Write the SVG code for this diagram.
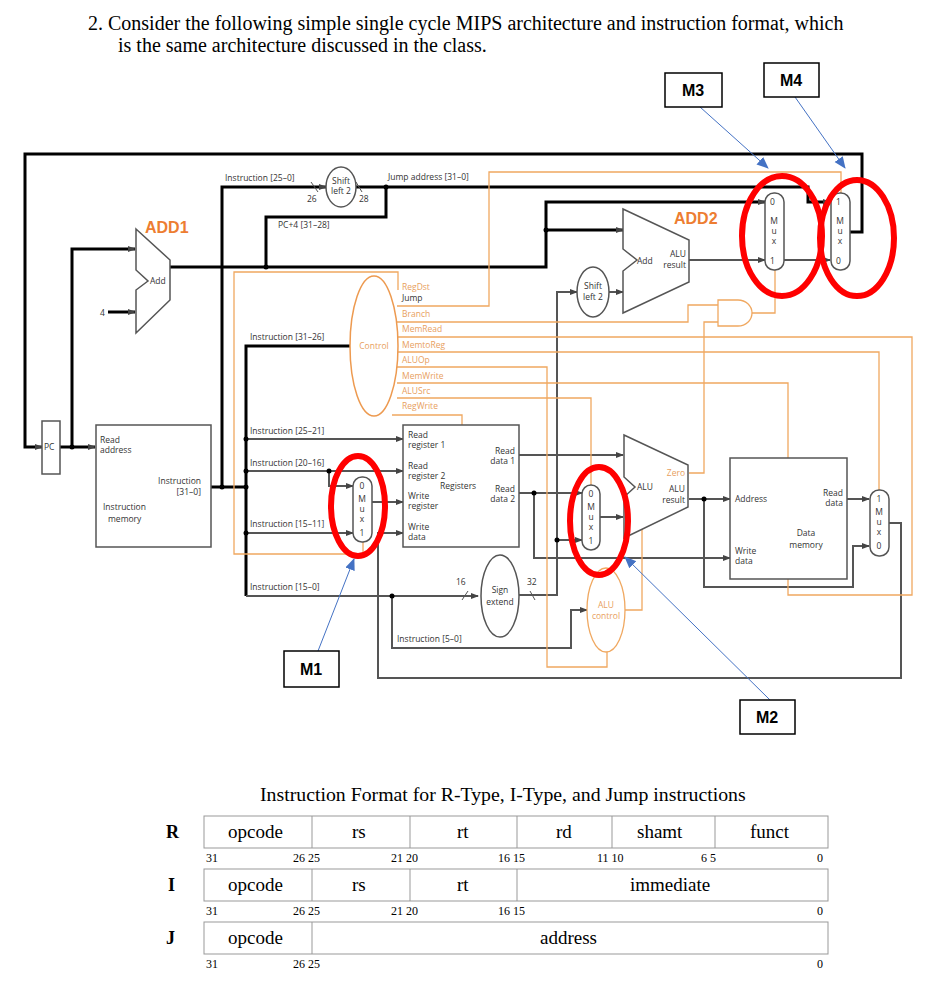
<svg xmlns="http://www.w3.org/2000/svg" width="937" height="988" viewBox="0 0 937 988">
<style>
.s{font-family:"Liberation Serif",serif;fill:#000}
.t{font-family:"Open Sans","DejaVu Sans",sans-serif;font-size:8.5px;fill:#333}
.o{font-family:"Open Sans","DejaVu Sans",sans-serif;font-size:8.5px;fill:#e8a060}
.g{fill:none;stroke:#555;stroke-width:2}
.k{fill:none;stroke:#000;stroke-width:3}
.or{fill:none;stroke:#f0a860;stroke-width:1.3}
.u{fill:#fff;stroke:#555;stroke-width:1.5}
.red{fill:none;stroke:#f00;stroke-width:6}
.lb{fill:#fff;stroke:#000;stroke-width:1.5}
.bl{stroke:#4472c4;stroke-width:1;fill:none}
.tb{fill:#fff;stroke:#999;stroke-width:1}
</style>
<defs>
<marker id="a" markerWidth="8" markerHeight="8" refX="7" refY="4" orient="auto" markerUnits="userSpaceOnUse"><path d="M0,1 L8,4 L0,7z" fill="#444"/></marker>
<marker id="b" markerWidth="12" markerHeight="12" refX="11" refY="6" orient="auto" markerUnits="userSpaceOnUse"><path d="M0,1 L12,6 L0,11z" fill="#4472c4"/></marker>
</defs>
<text class="s" x="88" y="30" font-size="20">2.  Consider the following simple single cycle MIPS architecture and instruction format, which</text>
<text class="s" x="118" y="52" font-size="20">is the same architecture discussed in the class.</text>

<g id="connectors">
<polyline class="k" points="850,232 862,232 862,154 25,154 25,447 42,447" marker-end="url(#a)"/>
<polyline class="k" points="60,447 95,447" marker-end="url(#a)"/>
<polyline class="k" points="72,447 72,249 135,249" marker-end="url(#a)"/>
<polyline class="k" points="108,312 135,312" marker-end="url(#a)"/>
<polyline class="k" points="170,267 546,267 546,202 765,202" marker-end="url(#a)"/>
<polyline class="k" points="546,230 623,230" marker-end="url(#a)"/>
<polyline class="k" points="211,487 246,487"/>
<polyline class="k" points="222,487 222,187 326,187" marker-end="url(#a)"/>
<polyline class="k" points="356,187 808,187 808,202 830,202" marker-end="url(#a)"/>
<polyline class="k" points="386,187 386,217 266,217 266,267"/>
<polyline class="k" points="246,596 246,346 357,346" marker-end="url(#a)"/>
<polyline class="g" points="689,260 765,260" marker-end="url(#a)"/>
<polyline class="g" points="784,260 830,260" marker-end="url(#a)"/>
<polyline class="g" points="246,439 403,439" marker-end="url(#a)"/>
<polyline class="g" points="246,471 403,471" marker-end="url(#a)"/>
<polyline class="g" points="329,471 329,486 353,486" marker-end="url(#a)"/>
<polyline class="g" points="246,533 353,533" marker-end="url(#a)"/>
<polyline class="g" points="372,502 403,502" marker-end="url(#a)"/>
<polyline class="g" points="889,523 901,523 901,678 378,678 378,533 403,533" marker-end="url(#a)"/>
<polyline class="g" points="246,596 478,596" marker-end="url(#a)"/>
<polyline class="g" points="392,596 392,648 571,648 571,610 587,610" marker-end="url(#a)"/>
<polyline class="g" points="519,595 557,595 557,292 577,292" marker-end="url(#a)"/>
<polyline class="g" points="557,540 582,540" marker-end="url(#a)"/>
<polyline class="g" points="609,292 623,292" marker-end="url(#a)"/>
<polyline class="g" points="519,455 623,455" marker-end="url(#a)"/>
<polyline class="g" points="519,493 582,493" marker-end="url(#a)"/>
<polyline class="g" points="534,493 534,558 730,558" marker-end="url(#a)"/>
<polyline class="g" points="600,517 623,517" marker-end="url(#a)"/>
<polyline class="g" points="689,499 730,499" marker-end="url(#a)"/>
<polyline class="g" points="704,499 704,587 853,587 853,546 869,546" marker-end="url(#a)"/>
<polyline class="g" points="847,499 869,499" marker-end="url(#a)"/>
<line x1="462" y1="600" x2="468" y2="591" stroke="#555"/>
<line x1="530" y1="591" x2="535" y2="600" stroke="#555"/>
<line x1="311" y1="182" x2="318" y2="192" stroke="#555"/>
<line x1="356" y1="182" x2="362" y2="192" stroke="#555"/>
<g fill="#000"><circle cx="72" cy="447" r="2.5"/><circle cx="222" cy="487" r="2.5"/><circle cx="246" cy="487" r="2.5"/><circle cx="386" cy="187" r="2.5"/><circle cx="266" cy="267" r="2.5"/><circle cx="546" cy="230" r="2.5"/>
<circle cx="246" cy="439" r="2.5"/><circle cx="246" cy="471" r="2.5"/><circle cx="246" cy="533" r="2.5"/><circle cx="329" cy="471" r="2.5"/><circle cx="392" cy="596" r="2.5"/><circle cx="557" cy="540" r="2.5"/><circle cx="534" cy="493" r="2.5"/><circle cx="704" cy="499" r="2.5"/></g>
<polyline class="or" points="398,290 398,272 234,272 234,554 363,554 363,542"/>
<polyline class="or" points="397,306 489,306 489,172 841,172 841,193"/>
<polyline class="or" points="397,322 688,322 688,305 718,305"/>
<polyline class="or" points="752,313 775,313 775,270"/>
<polyline class="or" points="689,473 704,473 704,322 718,322"/>
<polyline class="or" points="397,337 912,337 912,595 788,595 788,579"/>
<polyline class="or" points="397,352 879,352 879,490"/>
<polyline class="or" points="397,367 547,367 547,667 607,667 607,652" stroke-width="2.5"/>
<polyline class="or" points="625,610 642,610 642,528"/>
<polyline class="or" points="397,383 788,383 788,458"/>
<polyline class="or" points="397,398 591,398 591,485"/>
<polyline class="or" points="392,415 462,415 462,425"/>
</g>

<g id="add1"><polygon class="u" stroke="#333" points="136,229 170,260 170,300 136,333 136,290 148,281 136,270"/><text class="t" x="150" y="284">Add</text>
<text x="145" y="233" font-family="Liberation Sans,sans-serif" font-weight="bold" font-size="16" fill="#ed7d31">ADD1</text><text class="t" x="100" y="316">4</text></g>
<g id="pc"><rect class="u" stroke="#333" x="42" y="421" width="18" height="53"/><text class="t" x="44" y="450">PC</text></g>
<g id="imem"><rect class="u" stroke="#000" x="96" y="425" width="115" height="122"/>
<text class="t" x="100" y="443">Read</text><text class="t" x="100" y="453">address</text>
<text class="t" x="201" y="484" text-anchor="end">Instruction</text><text class="t" x="201" y="495" text-anchor="end">[31–0]</text>
<text class="t" x="103" y="510">Instruction</text><text class="t" x="108" y="522">memory</text></g>
<g id="shift1"><ellipse class="u" cx="341" cy="187" rx="15" ry="20"/><text class="t" x="341" y="184" text-anchor="middle">Shift</text><text class="t" x="341" y="194" text-anchor="middle">left 2</text>
<text class="t" x="225" y="181">Instruction [25–0]</text><text class="t" x="307" y="202">26</text><text class="t" x="359" y="202">28</text>
<text class="t" x="388" y="180">Jump address [31–0]</text><text class="t" x="278" y="228">PC+4 [31–28]</text></g>
<g id="control"><ellipse cx="374" cy="346" rx="24" ry="70" fill="#fff" stroke="#ed9a50" stroke-width="1.5"/><text class="o" x="374" y="349" text-anchor="middle">Control</text>
<text class="o" x="402" y="290">RegDst</text><text class="t" x="402" y="301">Jump</text><text class="o" x="402" y="317">Branch</text><text class="o" x="402" y="332">MemRead</text><text class="o" x="402" y="348">MemtoReg</text><text class="o" x="402" y="363">ALUOp</text><text class="o" x="402" y="379">MemWrite</text><text class="o" x="402" y="394">ALUSrc</text><text class="o" x="402" y="409">RegWrite</text>
<text class="t" x="250" y="340">Instruction [31–26]</text></g>
<g id="regs"><rect class="u" x="403" y="425" width="116" height="122"/>
<text class="t" x="408" y="438">Read</text><text class="t" x="408" y="448">register 1</text><text class="t" x="408" y="469">Read</text><text class="t" x="408" y="479">register 2</text><text class="t" x="408" y="499">Write</text><text class="t" x="408" y="509">register</text><text class="t" x="408" y="530">Write</text><text class="t" x="408" y="540">data</text>
<text class="t" x="440" y="489">Registers</text><text class="t" x="515" y="454" text-anchor="end">Read</text><text class="t" x="515" y="464" text-anchor="end">data 1</text><text class="t" x="515" y="492" text-anchor="end">Read</text><text class="t" x="515" y="502" text-anchor="end">data 2</text>
<text class="t" x="250" y="434">Instruction [25–21]</text><text class="t" x="250" y="466">Instruction [20–16]</text><text class="t" x="250" y="527">Instruction [15–11]</text><text class="t" x="250" y="590">Instruction [15–0]</text><text class="t" x="397" y="642">Instruction [5–0]</text><text class="t" x="456" y="585">16</text><text class="t" x="527" y="585">32</text></g>
<g id="mux1"><rect class="u" x="353" y="477" width="19" height="65" rx="9"/><text class="t" x="362" y="489" text-anchor="middle">0</text><text class="t" x="362" y="502" text-anchor="middle">M</text><text class="t" x="362" y="512" text-anchor="middle">u</text><text class="t" x="362" y="522" text-anchor="middle">x</text><text class="t" x="362" y="536" text-anchor="middle">1</text></g>
<g id="signext"><ellipse class="u" cx="500" cy="596" rx="19" ry="41"/><text class="t" x="500" y="593" text-anchor="middle">Sign</text><text class="t" x="500" y="605" text-anchor="middle">extend</text></g>
<g id="shift2"><ellipse class="u" cx="593" cy="292" rx="16" ry="25"/><text class="t" x="593" y="289" text-anchor="middle">Shift</text><text class="t" x="593" y="300" text-anchor="middle">left 2</text></g>
<g id="add2"><polygon class="u" points="623,209 689,240 689,282 623,313 623,271 637,260 623,249"/><text class="t" x="637" y="264">Add</text><text class="t" x="686" y="257" text-anchor="end">ALU</text><text class="t" x="686" y="268" text-anchor="end">result</text>
<text x="674" y="224" font-family="Liberation Sans,sans-serif" font-weight="bold" font-size="16" fill="#ed7d31">ADD2</text></g>
<g id="and"><path d="M718,300 H738 A14,13 0 0 1 738,326 H718 Z" fill="#fff" stroke="#f0a860" stroke-width="1.3"/></g>
<g id="mux3"><rect class="u" x="765" y="193" width="19" height="77" rx="9"/><text class="t" x="770" y="205">0</text><text class="t" x="774" y="224" text-anchor="middle">M</text><text class="t" x="774" y="234" text-anchor="middle">u</text><text class="t" x="774" y="244" text-anchor="middle">x</text><text class="t" x="770" y="264">1</text></g>
<g id="mux4"><rect class="u" stroke="#222" x="831" y="193" width="19" height="77" rx="9"/><text class="t" x="836" y="205">1</text><text class="t" x="840" y="224" text-anchor="middle">M</text><text class="t" x="840" y="234" text-anchor="middle">u</text><text class="t" x="840" y="244" text-anchor="middle">x</text><text class="t" x="836" y="264">0</text></g>
<g id="mux2"><rect class="u" x="582" y="485" width="18" height="65" rx="9"/><text class="t" x="591" y="497" text-anchor="middle">0</text><text class="t" x="591" y="510" text-anchor="middle">M</text><text class="t" x="591" y="520" text-anchor="middle">u</text><text class="t" x="591" y="530" text-anchor="middle">x</text><text class="t" x="591" y="544" text-anchor="middle">1</text></g>
<g id="alu"><polygon class="u" points="624,435 688,465 688,507 624,538 624,497 635,487 624,477"/><text class="t" x="637" y="490">ALU</text><text class="o" x="685" y="476" text-anchor="end">Zero</text><text class="t" x="685" y="492" text-anchor="end">ALU</text><text class="t" x="685" y="503" text-anchor="end">result</text></g>
<g id="aluctl"><ellipse cx="606" cy="610" rx="19" ry="42" fill="#fff" stroke="#f0a860" stroke-width="1.3"/><text class="o" x="606" y="608" text-anchor="middle">ALU</text><text class="o" x="606" y="619" text-anchor="middle">control</text></g>
<g id="dmem"><rect class="u" x="730" y="458" width="117" height="121"/><text class="t" x="735" y="502">Address</text><text class="t" x="843" y="496" text-anchor="end">Read</text><text class="t" x="843" y="506" text-anchor="end">data</text><text class="t" x="806" y="536" text-anchor="middle">Data</text><text class="t" x="806" y="548" text-anchor="middle">memory</text><text class="t" x="735" y="554">Write</text><text class="t" x="735" y="564">data</text></g>
<g id="mux5"><rect class="u" x="870" y="490" width="19" height="66" rx="9"/><text class="t" x="879" y="502" text-anchor="middle">1</text><text class="t" x="879" y="515" text-anchor="middle">M</text><text class="t" x="879" y="525" text-anchor="middle">u</text><text class="t" x="879" y="535" text-anchor="middle">x</text><text class="t" x="879" y="549" text-anchor="middle">0</text></g>

<g id="annotations">
<ellipse class="red" cx="782" cy="236" rx="40" ry="60"/><ellipse class="red" cx="857" cy="238" rx="37" ry="58"/><ellipse class="red" cx="358" cy="506" rx="27" ry="50"/><ellipse class="red" cx="599" cy="521" rx="29" ry="54"/>
<line class="bl" x1="700" y1="107" x2="768" y2="168" marker-end="url(#b)"/><line class="bl" x1="795" y1="97" x2="845" y2="168" marker-end="url(#b)"/>
<line class="bl" x1="318" y1="651" x2="354" y2="559" marker-end="url(#b)"/><line class="bl" x1="770" y1="700" x2="625" y2="557" marker-end="url(#b)"/>
<rect class="lb" x="665" y="73" width="57" height="34"/><text x="693" y="96" text-anchor="middle" font-family="Liberation Sans,sans-serif" font-weight="bold" font-size="16">M3</text>
<rect class="lb" x="764" y="63" width="55" height="34"/><text x="791" y="86" text-anchor="middle" font-family="Liberation Sans,sans-serif" font-weight="bold" font-size="16">M4</text>
<rect class="lb" x="284" y="651" width="55" height="36"/><text x="311" y="675" text-anchor="middle" font-family="Liberation Sans,sans-serif" font-weight="bold" font-size="16">M1</text>
<rect class="lb" x="740" y="700" width="55" height="34"/><text x="767" y="723" text-anchor="middle" font-family="Liberation Sans,sans-serif" font-weight="bold" font-size="16">M2</text>
</g>

<g id="formats">
<text class="s" x="260" y="801" font-size="19.8">Instruction Format for R-Type, I-Type, and Jump instructions</text>
<text class="s" x="166" y="838" font-size="18" font-weight="bold">R</text><text class="s" x="168" y="891" font-size="18" font-weight="bold">I</text><text class="s" x="166" y="944" font-size="18" font-weight="bold">J</text>
<rect class="tb" x="204" y="816" width="624" height="32"/><path d="M312,816v32M410,816v32M517,816v32M612,816v32M715,816v32" stroke="#999"/>
<rect class="tb" x="204" y="869" width="624" height="32"/><path d="M312,869v32M410,869v32M517,869v32" stroke="#999"/>
<rect class="tb" x="204" y="922" width="624" height="32"/><path d="M312,922v32" stroke="#999"/>
<g class="s" font-size="19"><text x="228" y="838">opcode</text><text x="352" y="838">rs</text><text x="457" y="838">rt</text><text x="556" y="838">rd</text><text x="637" y="838">shamt</text><text x="750" y="838">funct</text>
<text x="228" y="891">opcode</text><text x="352" y="891">rs</text><text x="457" y="891">rt</text><text x="630" y="891">immediate</text>
<text x="228" y="944">opcode</text><text x="540" y="944">address</text></g>
<g class="s" font-size="12"><text x="206" y="862">31</text><text x="293" y="862">26 25</text><text x="391" y="862">21 20</text><text x="498" y="862">16 15</text><text x="597" y="862">11 10</text><text x="701" y="862">6 5</text><text x="817" y="862">0</text>
<text x="206" y="915">31</text><text x="293" y="915">26 25</text><text x="391" y="915">21 20</text><text x="498" y="915">16 15</text><text x="817" y="915">0</text>
<text x="206" y="968">31</text><text x="293" y="968">26 25</text><text x="817" y="968">0</text></g>
</g>
</svg>
